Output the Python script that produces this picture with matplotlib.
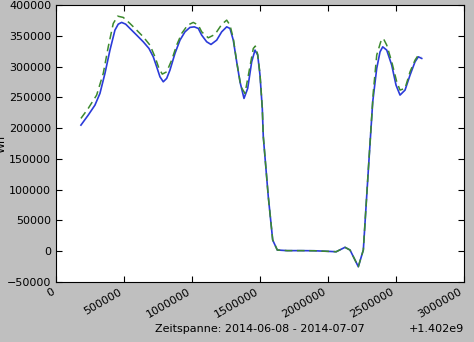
import matplotlib
matplotlib.use("Agg")
import matplotlib.pyplot as plt
from matplotlib.ticker import ScalarFormatter

T0 = 1.402e9

# seconds after T0 / value
BLUE_T = [183800, 237500, 286800, 323500, 360300, 397100, 433800, 458100,
          483100, 512500, 544100, 593400, 641900, 683800, 715500, 740500,
          764700, 789000, 814000, 838200, 875000, 911800, 948500, 985300,
          1017000, 1046400, 1071400, 1108200, 1139800, 1181700, 1218400,
          1255200, 1279400, 1303700, 1328700, 1352900, 1382400, 1409600,
          1439000, 1463300, 1483100, 1500000, 1516900, 1524300, 1561000,
          1593400, 1627200, 1700000, 1800000, 1900000, 2014700, 2060000,
          2125000, 2161800, 2191300, 2222800, 2259600, 2296400, 2328700,
          2358100, 2382400, 2402200, 2431700, 2468400, 2500000, 2529400,
          2566200, 2603000, 2639700, 2664000, 2689000]
BLUE_V = [205000, 221300, 237500, 256500, 289000, 326900, 359400, 369100,
          371900, 369100, 362100, 351250, 340400, 329600, 316000, 299800,
          283500, 275400, 280900, 294400, 321500, 343100, 356600, 363800,
          364700, 362100, 351250, 340400, 336100, 343100, 356600,
          364700, 362100, 343100, 307900, 275400, 248400, 264650,
          307900, 326900, 318800, 286300, 232200, 186000, 88600,
          18200, 2000, 1000, 1000, 800, -300, -800,
          6400, 2000, -11000, -25100, 2000, 131900, 242900,
          297150, 324100, 332200, 326900, 302500, 270000, 253800,
          261900, 286300, 307900, 316000, 313400]

GREEN_T = [183800, 237500, 299300, 347800, 384600, 421400, 453700, 494900,
           544100, 593400, 641900, 691200, 728000, 757400, 781700, 814000,
           850800, 887500, 924300, 968400, 1009600, 1046400, 1071400,
           1119900, 1169100, 1218400, 1255200, 1279400, 1303700, 1328700,
           1360300, 1389700, 1419100, 1450800, 1465500, 1483100, 1500000,
           1516900, 1524300, 1561000, 1593400, 1627200, 1700000, 1800000,
           1900000, 2014700, 2060000, 2125000, 2161800, 2191300, 2222800,
           2259600, 2296400, 2333100, 2358100, 2387500, 2406600, 2431700,
           2468400, 2505100, 2529400, 2566200, 2603000, 2639700, 2664000,
           2684000]
GREEN_V = [215900, 232200, 253800, 289000, 332200, 370200, 382100, 380000,
           370200, 359400, 348500, 335000, 316000, 297150, 287900, 291600,
           310600, 335000, 354000, 367500, 371900, 367500, 356600,
           346900, 352400, 368600, 375600, 367500, 345900, 307900,
           267300, 256550, 291600, 329600, 333400, 320000, 288000,
           233000, 187000, 89000, 18500, 2000, 1000, 1000,
           800, -300, -800, 6400, 2000, -11000, -25100,
           2000, 133000, 259200, 318800, 340400, 345900, 335000,
           307900, 275400, 261900, 264650, 291600, 310600, 318800,
           316000]

XLABEL = "Zeitspanne: 2014-06-08 - 2014-07-07"

plt.rcParams["font.size"] = 8

fig = plt.figure(figsize=(4.74, 3.42), dpi=100, facecolor="#bfbfbf")
ax = fig.add_axes([0.118, 0.1754, 0.861, 0.8096])

ax.plot([T0 + t for t in BLUE_T], BLUE_V, color="#2b3bd9", lw=1.2)
ax.plot([T0 + t for t in GREEN_T], GREEN_V, color="#3d8a2e", lw=1.1,
        ls=(0, (5, 3)))

ax.set_xlim(T0, T0 + 3000000)
ax.set_ylim(-50000, 400000)
ax.set_yticks(range(-50000, 400001, 50000))
ax.set_xticks([T0 + v for v in range(0, 3000001, 500000)])

fmt = ScalarFormatter(useOffset=T0)
fmt.set_powerlimits((-100, 100))
ax.xaxis.set_major_formatter(fmt)

ax.tick_params(direction="in", top=True, right=True, length=4)
for lab in ax.get_xticklabels():
    lab.set_rotation(30)
    lab.set_ha("right")

ax.set_xlabel(XLABEL, labelpad=3)
ax.set_ylabel("Wh")
ax.yaxis.set_label_coords(-0.122, 0.5)

fig.savefig("out.png", dpi=100, facecolor=fig.get_facecolor())
